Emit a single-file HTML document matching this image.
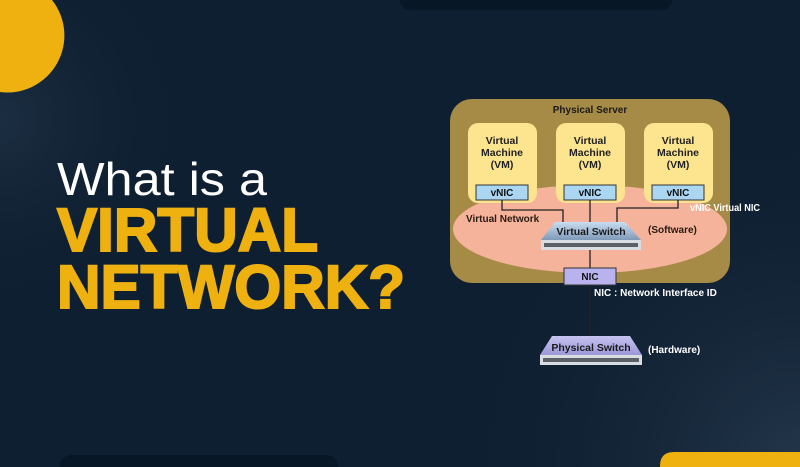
<!DOCTYPE html>
<html><head><meta charset="utf-8"><style>
html,body{margin:0;padding:0;width:800px;height:467px;overflow:hidden;background:#0e1f31;}
svg{display:block;position:absolute;left:0;top:0}
</style></head><body>
<svg width="800" height="467" viewBox="0 0 800 467" xmlns="http://www.w3.org/2000/svg" font-family="Liberation Sans, sans-serif">
<defs>
<radialGradient id="g1" cx="800" cy="467" r="360" gradientUnits="userSpaceOnUse">
<stop offset="0" stop-color="#24364a"/><stop offset="1" stop-color="#0e1f31" stop-opacity="0"/></radialGradient>
<radialGradient id="g2" cx="0" cy="120" r="200" gradientUnits="userSpaceOnUse">
<stop offset="0" stop-color="#1c2e41"/><stop offset="1" stop-color="#0e1f31" stop-opacity="0"/></radialGradient>
<linearGradient id="sw" x1="0" y1="0" x2="0" y2="1"><stop offset="0" stop-color="#c9dcf0"/><stop offset="1" stop-color="#7f9ab8"/></linearGradient>
<linearGradient id="ps" x1="0" y1="0" x2="0" y2="1"><stop offset="0" stop-color="#c6c3f0"/><stop offset="1" stop-color="#9c97d8"/></linearGradient>
</defs>
<rect width="800" height="467" fill="#0e1f31"/>
<rect width="800" height="467" fill="url(#g1)"/>
<rect width="800" height="467" fill="url(#g2)"/>
<path d="M0,0 L52,0 A57,57 0 0 1 0,92 Z" fill="#eeb10f"/>
<path d="M400,0 L672,0 L672,0 Q672,10 658,10 L414,10 Q400,10 400,0 Z" fill="#081725"/>
<path d="M60,467 Q60,455 74,455 L324,455 Q338,455 338,467 Z" fill="#081725"/>
<path d="M660,467 L660,466 Q660,452 674,452 L800,452 L800,467 Z" fill="#eeb10f"/>

<text x="57" y="195" font-size="46" fill="#fff" textLength="210" lengthAdjust="spacingAndGlyphs">What is a</text>
<text x="57" y="251" font-size="61" font-weight="bold" fill="#eeb10f" textLength="261" lengthAdjust="spacingAndGlyphs" stroke="#eeb10f" stroke-width="2">VIRTUAL</text>
<text x="57" y="308" font-size="61" font-weight="bold" fill="#eeb10f" textLength="348" lengthAdjust="spacingAndGlyphs" stroke="#eeb10f" stroke-width="2">NETWORK?</text>

<rect x="450" y="99" width="280" height="184" rx="22" fill="#a68b46"/>
<text x="590" y="113" font-size="10" font-weight="bold" fill="#1a1a1a" text-anchor="middle">Physical Server</text>
<ellipse cx="590" cy="229" rx="137" ry="44" fill="#f6b39b"/>
<g fill="#fde48e">
<rect x="468" y="123" width="69" height="80" rx="10"/>
<rect x="556" y="123" width="69" height="80" rx="10"/>
<rect x="644" y="123" width="69" height="80" rx="10"/>
</g>
<g font-size="10.5" font-weight="bold" fill="#222" text-anchor="middle">
<text x="502" y="144">Virtual</text><text x="502" y="156">Machine</text><text x="502" y="168">(VM)</text>
<text x="590" y="144">Virtual</text><text x="590" y="156">Machine</text><text x="590" y="168">(VM)</text>
<text x="678" y="144">Virtual</text><text x="678" y="156">Machine</text><text x="678" y="168">(VM)</text>
</g>
<g fill="#aad6f2" stroke="#333" stroke-width="1">
<rect x="476" y="185" width="52" height="15"/>
<rect x="564" y="185" width="52" height="15"/>
<rect x="652" y="185" width="52" height="15"/>
</g>
<g font-size="10" font-weight="bold" fill="#111" text-anchor="middle">
<text x="502" y="196">vNIC</text><text x="590" y="196">vNIC</text><text x="678" y="196">vNIC</text>
</g>
<g stroke="#222" stroke-width="1.3" fill="none">
<polyline points="502,200 502,210 563,210 563,224"/>
<line x1="590" y1="200" x2="590" y2="224"/>
<polyline points="678,200 678,208 617,208 617,224"/>
<line x1="590" y1="250" x2="590" y2="336"/>
</g>
<text x="466" y="222" font-size="10" font-weight="bold" fill="#2a1a10">Virtual Network</text>
<text x="648" y="233" font-size="10" font-weight="bold" fill="#2a1a10">(Software)</text>
<polygon points="555,222 625,222 641,240 541,240" fill="url(#sw)"/>
<rect x="541" y="240" width="100" height="10" fill="#d9dde2"/>
<rect x="544" y="243" width="94" height="4" fill="#5a6068"/>
<text x="591" y="235" font-size="10.5" font-weight="bold" fill="#1a1a1a" text-anchor="middle">Virtual Switch</text>
<rect x="564" y="268" width="52" height="17" fill="#b8b3ee" stroke="#333" stroke-width="1"/>
<text x="590" y="280" font-size="10" font-weight="bold" fill="#111" text-anchor="middle">NIC</text>
<text x="690" y="211" font-size="10" font-weight="bold" fill="#fff" textLength="70" lengthAdjust="spacingAndGlyphs">vNIC  Virtual NIC</text>
<text x="594" y="296" font-size="10" font-weight="bold" fill="#fff">NIC : Network Interface ID</text>
<polygon points="552,336 630,336 642,355 540,355" fill="url(#ps)"/>
<rect x="540" y="355" width="102" height="10" fill="#d9dde2"/>
<rect x="543" y="358" width="96" height="4" fill="#5a6068"/>
<text x="591" y="351" font-size="10.5" font-weight="bold" fill="#1a1a1a" text-anchor="middle">Physical Switch</text>
<text x="648" y="353" font-size="10" font-weight="bold" fill="#fff">(Hardware)</text>
</svg>
</body></html>
